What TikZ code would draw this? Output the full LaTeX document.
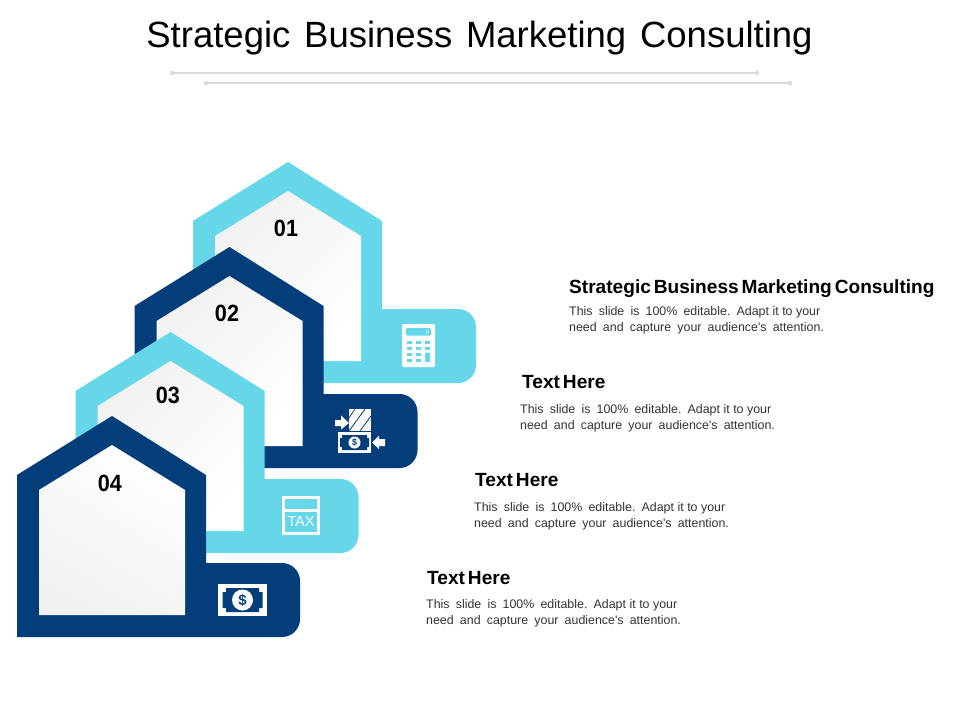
\documentclass[tikz,border=0pt]{standalone}
\usepackage{fontspec}
\setmainfont{Liberation Sans}
\newfontfamily\headf[WordSpace=0.55,UprightFont=*,BoldFont=* Bold]{Liberation Sans}
\newfontfamily\numf[FakeStretch=.92,UprightFont=*,BoldFont=* Bold]{Liberation Sans}
\newfontfamily\bodyf{Liberation Sans}
\definecolor{cy}{HTML}{66D7E8}
\definecolor{nv}{HTML}{033E7B}
\definecolor{rl}{HTML}{D9DADC}
\definecolor{ink}{HTML}{333333}
\definecolor{pn}{HTML}{F1F1F2}
\newcommand{\bodylines}{\spaceskip=6.2pt\relax This slide is 100\% editable. {\spaceskip=3.5pt\relax Adapt it to your}\\\spaceskip=6.2pt\relax need and capture your audience's attention.}
\tikzset{
 titletext/.style={font=\fontsize{36.5}{40}\selectfont,text=black,inner sep=0pt,anchor=center},
 headtext/.style={font=\headf\bfseries\fontsize{19.1}{20}\selectfont,text=black,inner sep=0pt,anchor=base west},
 bodytext/.style={font=\bodyf\fontsize{12.4}{16}\selectfont\frenchspacing,text=ink,inner sep=0pt,anchor=north west,align=left},
 numtext/.style={font=\numf\bfseries\fontsize{23.5}{24}\selectfont,text=black,inner sep=0pt},
}
% #1 dx, #2 dy, #3 colour, #4 shading angle
\newcommand{\hometile}[4]{%
 \begin{scope}[shift={(#1,#2)}]
  \fill[#3] (288,162) -- (382,221) -- (382,309) -- (458,309)
     arc[start angle=90,end angle=0,x radius=18,y radius=-18]
     -- (476,365) arc[start angle=0,end angle=-90,x radius=18,y radius=-18]
     -- (193,383) -- (193,221) -- cycle;
  \shade[top color=pn,bottom color=white,shading angle=#4] (288,191) -- (361,236) -- (361,361) -- (215,361) -- (215,236) -- cycle;
 \end{scope}}
\begin{document}
\begin{tikzpicture}[x=1pt,y=-1pt,line cap=butt]
\useasboundingbox (0,0) rectangle (960,720);
\fill[white] (0,0) rectangle (960,720);
\node[titletext] (title) at (479.5,38) {Strategic\hspace{.1em} Business\hspace{.1em} Marketing\hspace{.1em} Consulting};
% decorative rules
\coordinate (r1a) at (172,73); \coordinate (r1b) at (757,73);
\coordinate (r2a) at (206,83); \coordinate (r2b) at (790,83);
\draw[rl,line width=1.1pt] (r1a) -- (r1b);
\draw[rl,line width=1.1pt] (r2a) -- (r2b);
\foreach \p in {r1a,r1b,r2a,r2b}\fill[rl] (\p) circle (2.2);
% tiles
\hometile{0}{0}{cy}{45}
\hometile{-58.5}{85}{nv}{45}
\hometile{-117.5}{170}{cy}{45}
\hometile{-176}{254}{nv}{150}
% numbers
\node[numtext] (n1) at (286,228) {01};
\node[numtext] (n2) at (227,313) {02};
\node[numtext] (n3) at (168,395) {03};
\node[numtext] (n4) at (110,483) {04};
% calculator icon
\fill[white,rounded corners=1.2] (402,324) rectangle (435,367);
\fill[cy,rounded corners=2] (405.7,328) rectangle (431,335.7);
\node[font=\fontsize{6}{6}\selectfont,text=white,inner sep=0pt] (dsp) at (427.5,332) {0};
\foreach \x in {407.3,416,425}\foreach \y in {340.7,346.7,352.7,358.7}{
 \ifdim\x pt=425pt\ifdim\y pt>350pt\else\fill[cy] (\x,\y) rectangle +(5,3.3);\fi\else\fill[cy] (\x,\y) rectangle +(5,3.3);\fi}
\fill[cy,rounded corners=1] (425,352.7) rectangle (430,362);
% chart & money icon
\fill[white] (349,409) rectangle (371,431);
\draw[nv,line width=.8pt] (349,431) -- (365,409);
\draw[nv,line width=.8pt] (355,409) -- (349,418);
\draw[nv,line width=.8pt] (360,431) -- (371,416);
\fill[white] (335,420) -- (341,420) -- (341,415.5) -- (349,423) -- (341,429.5) -- (341,426) -- (335,426) -- cycle;
\fill[white] (338,432) rectangle (371,453);
\fill[nv] (342,435) -- (367,435) -- (367,438) -- (369,438) -- (369,447) -- (367,447) -- (367,450) -- (342,450) -- (342,447) -- (340,447) -- (340,438) -- (342,438) -- cycle;
\fill[white] (354.5,442.5) circle (6);
\node[font=\bfseries\fontsize{9}{9}\selectfont,text=nv,inner sep=0pt] (dl1) at (354.5,442.5) {\$};
\fill[white] (385,439) -- (379,439) -- (379,435.5) -- (372,442.5) -- (379,449) -- (379,446) -- (385,446) -- cycle;
% tax icon
\fill[white] (282,496) rectangle (320,535);
\fill[cy] (285,499) rectangle (317,532);
\fill[white] (285,509.3) rectangle (317,512.3);
\node[font=\fontsize{14.5}{15}\selectfont,text=white,inner sep=0pt] (tax) at (301,522) {TAX};
% money icon
\fill[white] (218,584) rectangle (267,616);
\fill[nv] (226,588) -- (259,588) -- (259,592) -- (262.5,592) -- (262.5,608) -- (259,608) -- (259,612) -- (226,612) -- (226,608) -- (222.5,608) -- (222.5,592) -- (226,592) -- cycle;
\fill[white] (242.5,600) circle (10.5);
\node[font=\bfseries\fontsize{15}{15}\selectfont,text=nv,inner sep=0pt] (dl2) at (242.5,600) {\$};
% texts
\node[headtext] (h1) at (569,293) {Strategic Business Marketing Consulting};
\node[bodytext] (b1) at (569,306.5) {\bodylines};
\node[headtext] (h2) at (522,388.5) {Text Here};
\node[bodytext] (b2) at (520,404) {\bodylines};
\node[headtext] (h3) at (475,486.5) {Text Here};
\node[bodytext] (b3) at (474,502) {\bodylines};
\node[headtext] (h4) at (427,584.5) {Text Here};
\node[bodytext] (b4) at (426,599.5) {\bodylines};
\end{tikzpicture}
\end{document}
